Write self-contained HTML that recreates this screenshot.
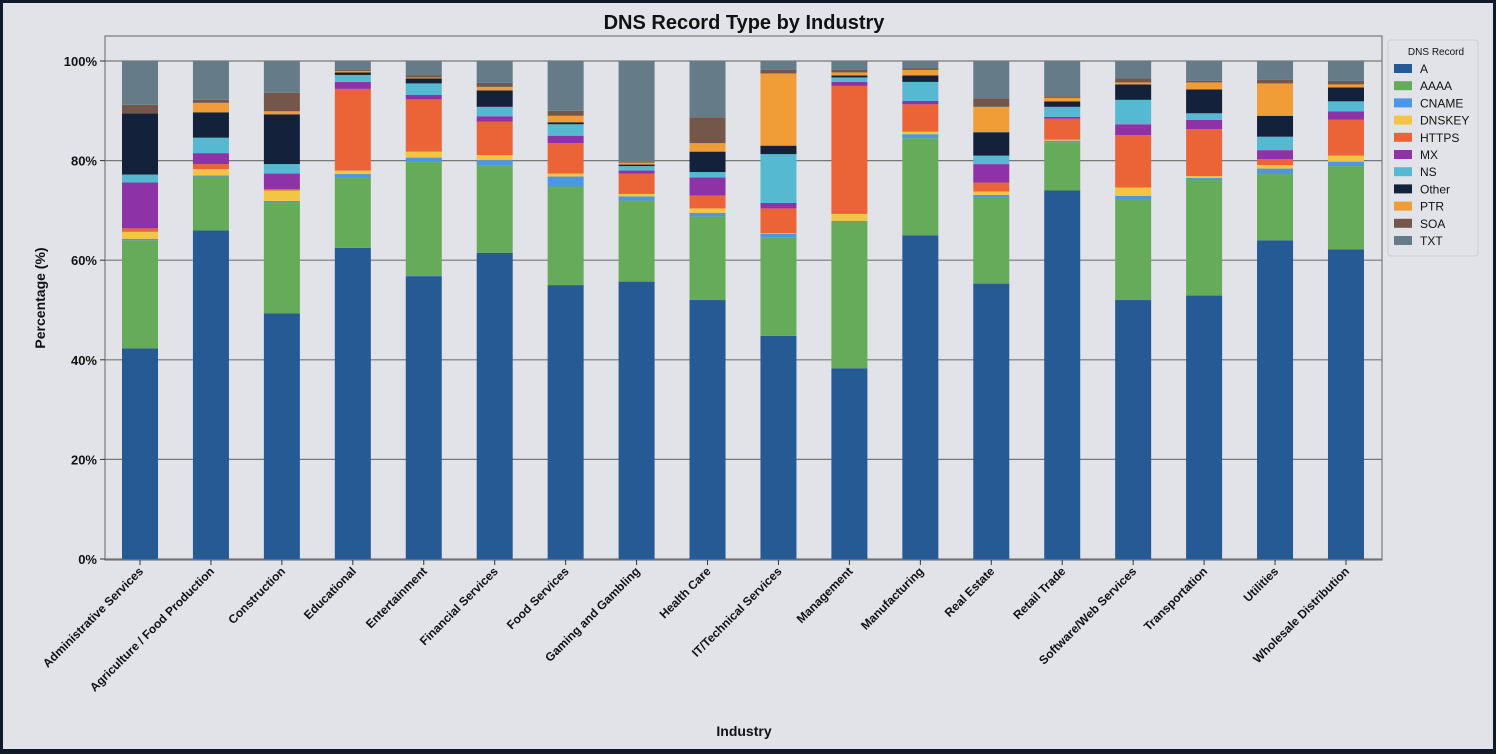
<!DOCTYPE html>
<html><head><meta charset="utf-8"><style>
html,body{margin:0;padding:0;background:#0f1a2c;}
svg{display:block;font-family:"Liberation Sans",sans-serif;}
</style></head><body>
<svg id="chart" width="1496" height="754">
<rect x="3" y="3" width="1490" height="746" fill="#e1e3e8"/>
<rect x="105" y="36" width="1277" height="524" fill="#e1e3e8" stroke="#666" stroke-width="1"/>
<g id="grid"></g><g id="bars"></g><g id="axes"></g>
<text x="744" y="29" text-anchor="middle" font-size="20" font-weight="bold" fill="#111">DNS Record Type by Industry</text>
<text x="744" y="736" text-anchor="middle" font-size="14" font-weight="bold" fill="#111">Industry</text>
<text transform="translate(45,298) rotate(-90)" text-anchor="middle" font-size="14" font-weight="bold" fill="#111">Percentage (%)</text>
<g id="legend">
<rect x="1388" y="40" width="90" height="216" fill="#e1e3e8" stroke="#ccc" rx="3"/>
<text x="1436" y="55" text-anchor="middle" font-size="10" fill="#111">DNS Record</text>
</g>
</svg>
<script>
const categories = ["Administrative Services","Agriculture / Food Production","Construction","Educational","Entertainment","Financial Services","Food Services","Gaming and Gambling","Health Care","IT/Technical Services","Management","Manufacturing","Real Estate","Retail Trade","Software/Web Services","Transportation","Utilities","Wholesale Distribution"];
const seriesNames = ["A","AAAA","CNAME","DNSKEY","HTTPS","MX","NS","Other","PTR","SOA","TXT"];
const seriesColors = ["#255a94","#66ab5a","#4b96e6","#f2c542","#eb6437","#8e32a8","#55b9d1","#13223a","#f09c37","#74574a","#667b88"];
const valA      = [42.3,66,49.3,62.5,56.8,61.5,55,55.7,52,44.8,38.3,65,55.3,74,52,52.9,64,62.2];
const valAAAA   = [21.7,10.8,22.3,14.1,22.9,17.6,19.8,16.3,16.8,19.7,29.6,19.5,17.3,9.7,20.1,23.2,13.3,16.7];
const valCNAME  = [0.3,0.2,0.3,0.7,0.9,1.0,2.0,0.8,0.7,0.8,0,0.8,0.5,0.3,0.8,0.4,1.1,0.9];
const valDNSKEY = [1.4,1.3,2.1,0.7,1.2,1.0,0.6,0.5,0.9,0.1,1.4,0.5,0.7,0.2,1.7,0.4,0.7,1.2];
const valHTTPS  = [0.7,1.0,0.3,16.4,10.5,6.7,6.1,4.1,2.6,5.0,25.7,5.5,1.8,4.2,10.5,9.4,1.2,7.2];
const valMX     = [9.2,2.2,3.1,1.4,0.9,1.1,1.5,0.6,3.6,1.1,0.8,0.7,3.7,0.4,2.2,1.9,1.8,1.7];
const valNS     = [1.6,3.1,1.9,1.4,2.3,1.9,2.3,0.9,1.1,9.8,0.9,3.8,1.7,2.0,4.9,1.3,2.7,2.0];
const valOther  = [12.3,5.1,10,0.5,1.0,3.3,0.4,0.3,4.1,1.7,0.4,1.3,4.7,1.1,3.1,4.8,4.2,2.8];
const valPTR    = [0,1.9,0.6,0.3,0.2,0.7,1.3,0.4,1.7,14.5,0.6,1.1,5.1,0.7,0.4,1.4,6.5,0.6];
const valSOA    = [1.7,0.6,3.7,0.2,0.4,0.8,1.0,0.2,5.2,0.7,0.5,0.3,1.7,0.3,0.8,0.3,0.7,0.7];
const valTXT    = [8.8,7.8,6.4,1.8,2.9,4.4,10.0,20.2,11.3,1.8,1.8,1.5,7.5,7.1,3.5,4.0,3.8,4.0];
const yTicks = [0,20,40,60,80,100];
const yTickLabels = ["0%","20%","40%","60%","80%","100%"];
const series = [valA,valAAAA,valCNAME,valDNSKEY,valHTTPS,valMX,valNS,valOther,valPTR,valSOA,valTXT];

const NS_ = "http://www.w3.org/2000/svg";
const y = v => 559 - v * 4.98;
const x = i => 140 + i * 70.94;
const bw = 36;
function mk(tag, attrs, parent){const e=document.createElementNS(NS_,tag);for(const k in attrs)e.setAttribute(k,attrs[k]);parent.appendChild(e);return e;}
const grid=document.getElementById('grid'), bars=document.getElementById('bars'), axes=document.getElementById('axes'), legend=document.getElementById('legend');

yTicks.forEach((t,k)=>{
  const l=mk('line',{x1:105,x2:1382,y1:y(t),y2:y(t),stroke:'#777','stroke-width':1.2},grid);
  
  
  const tk=mk('line',{x1:100,x2:105,y1:y(t),y2:y(t),stroke:'#333'},axes);
  
  
  const tx=mk('text',{x:97,y:y(t)+5,'text-anchor':'end','font-size':13,'font-weight':'bold',fill:'#111'},axes);
  tx.textContent=yTickLabels[k];
  
  
});

categories.forEach((c,i)=>{
  let cum=0;
  series.forEach((s,j)=>{
    const v=s[i];
    const r=mk('rect',{x:x(i)-bw/2,y:y(cum+v),width:bw,height:Math.max(0,y(cum)-y(cum+v)),fill:seriesColors[j]},bars);
    
    
    cum+=v;
  });
  const tk=mk('line',{x1:x(i),x2:x(i),y1:560,y2:565,stroke:'#333'},axes);
  
  
  const tx=mk('text',{x:0,y:0,'text-anchor':'end','font-size':12,'font-weight':'bold',fill:'#111',transform:`translate(${x(i)+4},${572}) rotate(-45)`},axes);
  tx.textContent=c;
  
  
});

seriesNames.forEach((n,j)=>{
  const yy=69+j*17.2;
  const r=mk('rect',{x:1394,y:yy-5,width:18,height:9,fill:seriesColors[j]},legend);
  
  
  const t=mk('text',{x:1420,y:yy+4,'font-size':12,fill:'#111'},legend);
  t.textContent=n;
  
  
});
</script>
</body></html>
